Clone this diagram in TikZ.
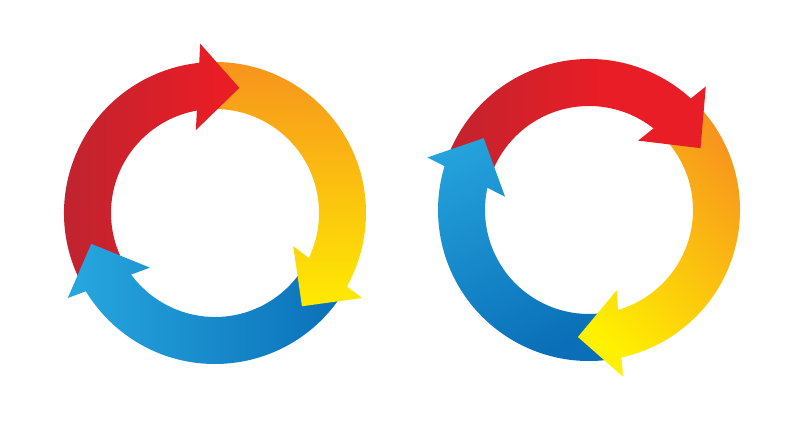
\documentclass[tikz,border=0pt]{standalone}
\definecolor{redD}{HTML}{BF2430}
\definecolor{redB}{HTML}{E81D25}
\definecolor{orangeA}{HTML}{F7941D}
\definecolor{yellowA}{HTML}{FFF100}
\definecolor{blueL}{HTML}{29ABE2}
\definecolor{blueD}{HTML}{0A6FB8}
\newcommand\RingShaft[3]{\begin{scope}\clip (#1:151) arc[start angle=#1,end angle=#2,radius=151] -- (#2:104) arc[start angle=#2,end angle=#1,radius=104] -- cycle; #3\end{scope}}
\newcommand\RingHead[4]{\begin{scope}\clip (#1:170) -- (#3:127.5) -- (#2:85) -- cycle; #4\end{scope}}
\begin{document}
\begin{tikzpicture}[x=1pt,y=1pt]
\fill[white] (0,0) rectangle (800,442);
\useasboundingbox (0,0) rectangle (800,442);
% left cycle
\begin{scope}[shift={(215,229)}]
\def\shR{\shade[left color=redD,right color=redB,middle color=redB] (-152,-175) rectangle (152,175);}
\def\shO{\shade[top color=orangeA,bottom color=yellowA] (-10,-110) rectangle (175,150);}
\def\shB{\shade[left color=blueL,right color=blueD] (-165,-175) rectangle (130,-10);}
\RingShaft{205.6}{90}{\shR}
\RingShaft{90}{-35.6}{\shO}
\RingShaft{324.4}{205.6}{\shB}
\RingHead{95}{103}{79}{\shR}
\RingHead{-30}{-23}{-47}{\shO}
\RingHead{210}{220}{194}{\shB}
\end{scope}
% right cycle
\begin{scope}[shift={(589,232)}]
\def\shR{\shade[left color=redD,right color=redB,middle color=redB] (-155,-175) rectangle (175,175);}
\def\shO{\shade[top color=orangeA,bottom color=yellowA,shading angle=-45] (-20,-165) rectangle (165,110);}
\def\shB{\shade[top color=blueL,bottom color=blueD,shading angle=25] (-175,-160) rectangle (20,130);}
\RingShaft{157.2}{41}{\shR}
\RingShaft{41}{-83.8}{\shO}
\RingShaft{276.2}{157.2}{\shB}
\RingHead{46.6}{54.7}{29}{\shR}
\RingHead{-78.5}{-71}{-95}{\shO}
\RingHead{162}{171}{145.7}{\shB}
\end{scope}
\end{tikzpicture}
\end{document}
